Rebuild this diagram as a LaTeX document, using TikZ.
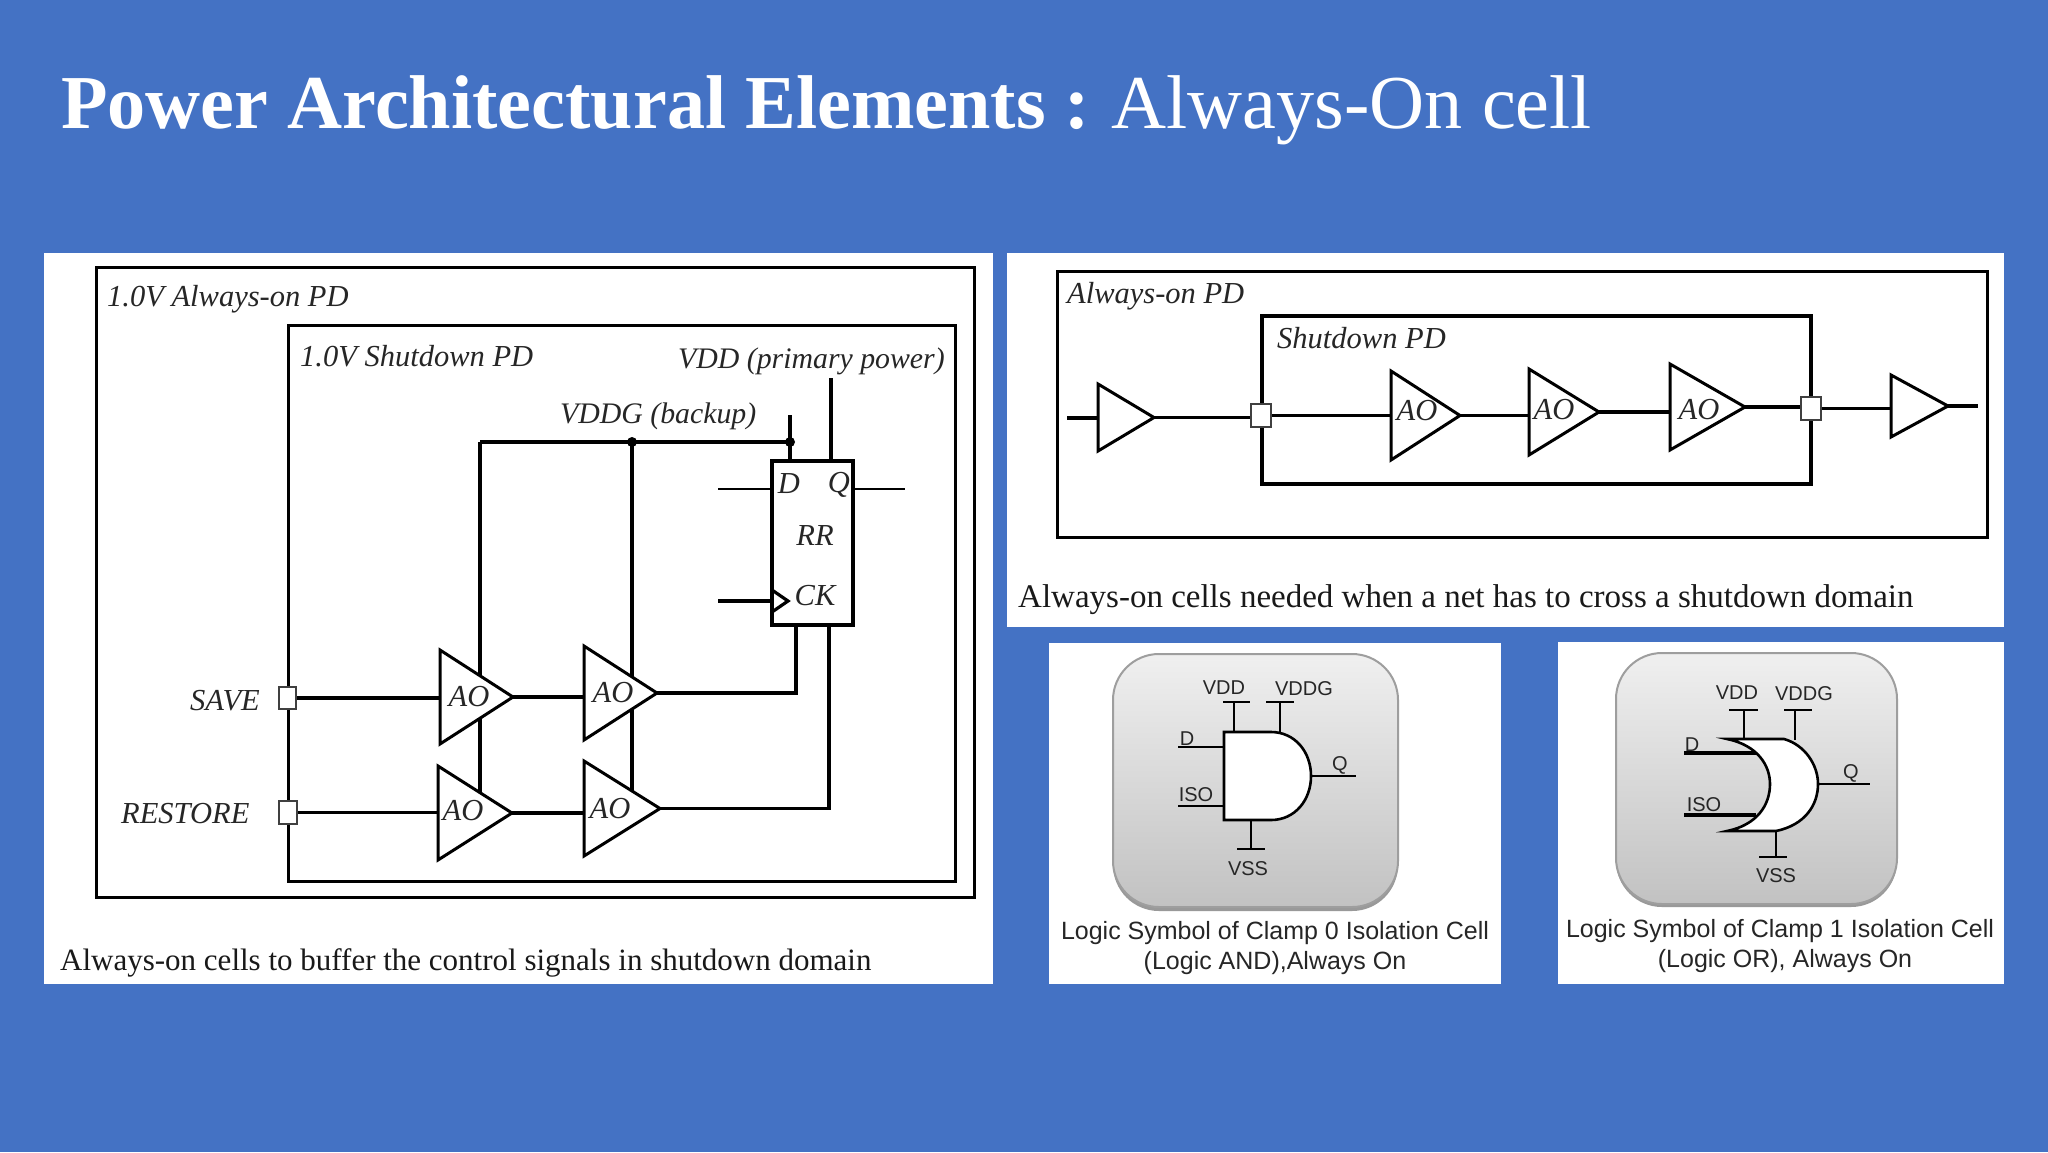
\documentclass[tikz,border=0pt]{standalone}
\usepackage{fontspec}
\setmainfont{Liberation Serif}
\newfontfamily\armfont{Liberation Sans}
\usetikzlibrary{shapes.geometric}
\definecolor{slidebg}{HTML}{4472C4}
\pgfdeclarelayer{slide}
\pgfdeclarelayer{panel}
\pgfdeclarelayer{wires}
\pgfsetlayers{slide,panel,wires,main}
\tikzset{
  panelbox/.style={rectangle,fill=white,draw=none},
  pdbox/.style={rectangle,draw=black,line width=3pt,fill=none},
  wire/.style={line width=3.2pt,black,line cap=butt},
  thinwire/.style={line width=2.4pt,black},
  portbox/.style={rectangle,draw=black!75,line width=1.6pt,fill=white},
  ffbox/.style={rectangle,draw=black,line width=3.2pt,fill=white},
  buf/.style={isosceles triangle,isosceles triangle stretches,shape border rotate=0,draw=black,fill=white,line width=3pt,inner sep=0pt,outer sep=0pt,anchor=lower side},
  junct/.style={circle,fill=black,inner sep=0pt,minimum size=10pt},
  lab/.style={font=\fontsize{30.5}{36}\selectfont\itshape,text=black!85,inner sep=0pt,anchor=base west},
  lab2/.style={font=\fontsize{30.5}{36}\selectfont\itshape,text=black!85,inner sep=0pt},
  capt/.style={font=\fontsize{31}{36}\selectfont,text=black!90,inner sep=0pt,anchor=base west},
  sanscap/.style={font=\armfont\fontsize{25}{30}\selectfont,text=black!85,inner sep=0pt},
  pinlab/.style={font=\armfont\fontsize{20}{24}\selectfont,text=black!85,inner sep=0pt},
  tile/.style={rectangle,rounded corners=46pt,draw=black!38,line width=2pt,top color=black!6,bottom color=black!24},
  tileshadow/.style={rectangle,rounded corners=46pt,fill=black!40,draw=none},
  gatebody/.style={draw=black,fill=white,line width=2.6pt},
  slidetitle/.style={font=\fontsize{76.2}{84}\selectfont,text=white,inner sep=0pt,anchor=base west}
}
\newcommand{\rectnode}[6]{%
  \pgfmathsetmacro{\mwd}{#5-#3}\pgfmathsetmacro{\mht}{#6-#4}%
  \node[#1,minimum width=\mwd pt,minimum height=\mht pt,inner sep=0pt,outer sep=0pt] (#2) at ({(#3+#5)/2},{(#4+#6)/2}) {};}
\newcommand{\aocell}[5]{% name, xleft, ytop, xtip, ybottom
  \pgfmathsetmacro{\mwd}{#4-#2}\pgfmathsetmacro{\mht}{#5-#3}%
  \node[buf,minimum width=\mht pt,minimum height=\mwd pt] (#1) at (#2,{(#3+#5)/2}) {};}
\begin{document}
\begin{tikzpicture}[x=1pt,y=-1pt]
\useasboundingbox (0,0) rectangle (2048,1152);
\begin{pgfonlayer}{slide}
\fill[slidebg] (0,0) rectangle (2048,1152);
\end{pgfonlayer}
\node[slidetitle] (ttl) at (61,128) {\textbf{Power Architectural Elements :}\hspace{-4pt} Always-On cell};

\begin{pgfonlayer}{panel}
\rectnode{panelbox}{pa}{44}{253}{993}{984}
\rectnode{panelbox}{pb}{1007}{253}{2004}{627}
\rectnode{panelbox}{pc}{1049}{643}{1501}{984}
\rectnode{panelbox}{pd}{1558}{642}{2004}{984}
\end{pgfonlayer}

% ---------- left diagram ----------
\begin{pgfonlayer}{wires}
\rectnode{pdbox}{aoA}{96}{267}{974}{897}
\rectnode{pdbox}{sdA}{288}{325}{955}{881}
\end{pgfonlayer}
\node[lab] (laoA) at (107,306) {1.0V Always-on PD};
\node[lab] (lsdA) at (300,366) {1.0V Shutdown PD};
\node[lab,font=\fontsize{29.8}{36}\selectfont\itshape] (lvdd) at (678,368) {VDD (primary power)};
\node[lab,font=\fontsize{29.8}{36}\selectfont\itshape] (lvddg) at (560,423) {VDDG (backup)};
\rectnode{ffbox}{rr}{772}{461}{853}{625}
\node[lab2] (ld) at (789,484) {D};
\node[lab2] (lq) at (839,485) {Q};
\node[lab2] (lrr) at (815,536) {RR};
\node[lab2] (lck) at (815,596) {CK};
\coordinate (ckt) at (772,590);
\coordinate (ckm) at (788,601);
\coordinate (ckb) at (772,612);
\draw[wire] (ckt) -- (ckm) -- (ckb);
\aocell{ta}{440}{650}{513}{744}
\aocell{tb}{584}{646}{657}{740}
\aocell{tc}{438}{766}{512}{860}
\aocell{td}{584}{761}{660}{856}
\node[lab2] (lta) at (469,697) {AO};
\node[lab2] (ltb) at (613,693) {AO};
\node[lab2] (ltc) at (463,811) {AO};
\node[lab2] (ltd) at (610,809) {AO};
\rectnode{portbox}{psave}{279}{687}{296}{709}
\rectnode{portbox}{prest}{279}{801}{297}{824}
\node[lab] (lsave) at (190,710) {SAVE};
\node[lab] (lrest) at (121,823) {RESTORE};
\coordinate (railw) at (480,442);
\node[junct] (j1) at (632,442) {};
\node[junct] (j2) at (790,442) {};
\coordinate (vddgtop) at (790,415);
\coordinate (vddtop) at (831,378);
\coordinate (vddbot) at (831,461);
\coordinate (vddgbot) at (790,461);
\coordinate (dl) at (718,489);
\coordinate (dr) at (772,489);
\coordinate (qr) at (905,489);
\coordinate (ql) at (853,489);
\coordinate (ckl) at (718,601);
\coordinate (rrs1) at (796,625);
\coordinate (rrs2) at (829,625);
\begin{pgfonlayer}{wires}
\draw[wire] (psave) -- (psave -| ta.lower side);
\draw[wire] (prest) -- (prest -| tc.lower side);
\draw[wire] (ta.apex) -- (ta.apex -| tb.lower side);
\draw[wire] (tc.apex) -- (tc.apex -| td.lower side);
\draw[wire] (tb.apex) -| (rrs1);
\draw[wire] (td.apex) -| (rrs2);
\draw[wire] (railw) -- (j2.center);
\draw[wire] (railw) -- (railw |- tc.center);
\draw[wire] (j1.center) -- (j1.center |- td.center);
\draw[wire] (vddgtop) -- (vddgbot);
\draw[wire] (vddtop) -- (vddbot);
\draw[thinwire] (dl) -- (dr);
\draw[thinwire] (ql) -- (qr);
\draw[wire] (ckl) -- (ckm);
\end{pgfonlayer}
\node[capt] (capA) at (60,970) {Always-on cells to buffer the control signals in shutdown domain};

% ---------- top right diagram ----------
\begin{pgfonlayer}{wires}
\rectnode{pdbox}{aoB}{1057}{271}{1987}{537}
\rectnode{pdbox,line width=3.4pt}{sdB}{1262}{316}{1811}{484}
\end{pgfonlayer}
\node[lab] (laoB) at (1067,303) {Always-on PD};
\node[lab] (lsdB) at (1277,348) {Shutdown PD};
\aocell{u0}{1098}{384}{1154}{451}
\aocell{ua}{1391}{371}{1460}{460}
\aocell{ub}{1529}{369}{1599}{455}
\aocell{uc}{1670}{364}{1745}{450}
\aocell{ud}{1891}{375}{1948}{437}
\node[lab2] (lua) at (1417,411) {AO};
\node[lab2] (lub) at (1554,410) {AO};
\node[lab2] (luc) at (1699,410) {AO};
\rectnode{portbox}{s1}{1251}{404}{1271}{427}
\rectnode{portbox}{s2}{1801}{397}{1821}{420}
\coordinate (inB) at (1067,418);
\coordinate (inBr) at (1098,418);
\coordinate (outB) at (1978,406);
\begin{pgfonlayer}{wires}
\draw[wire] (inB) -- (inBr);
\draw[wire] (u0.apex) -- (u0.apex -| s1);
\draw[wire] (s1) -- (s1 -| ua.lower side);
\draw[wire] (ua.apex) -- (ua.apex -| ub.lower side);
\draw[wire] (ub.apex) -- (ub.apex -| uc.lower side);
\draw[wire] (uc.apex) -- (uc.apex -| s2);
\draw[wire] (s2) -- (s2 -| ud.lower side);
\draw[wire] (ud.apex) -- (outB);
\end{pgfonlayer}
\node[capt,font=\fontsize{33}{36}\selectfont] (capB) at (1018,607) {Always-on cells needed when a net has to cross a shutdown domain};

% ---------- clamp 0 ----------
\rectnode{tileshadow}{shC}{1113}{657}{1398}{911}
\rectnode{tile}{tC}{1113}{654}{1398}{907}
\coordinate (andT) at (1224,732);
\coordinate (andB) at (1224,820);
\coordinate (andQ) at (1311,776);
\coordinate (andD) at (1224,747);
\coordinate (andI) at (1224,806);
\coordinate (dC) at (1178,747);
\coordinate (iC) at (1178,806);
\coordinate (qC) at (1356,776);
\coordinate (vddC1) at (1234,732);
\coordinate (vddC2) at (1234,702);
\coordinate (vddgC1) at (1280,732);
\coordinate (vddgC2) at (1280,702);
\coordinate (vssC1) at (1251,820);
\coordinate (vssC2) at (1251,849);
\draw[thinwire] (dC) -- (andD);
\draw[thinwire] (iC) -- (andI);
\draw[thinwire] (andQ) -- (qC);
\draw[thinwire] (vddC1) -- (vddC2);
\draw[thinwire] (vddgC1) -- (vddgC2);
\draw[thinwire] (vssC1) -- (vssC2);
\draw[thinwire] (1223,702) -- (1250,702);
\draw[thinwire] (1266,702) -- (1294,702);
\draw[thinwire] (1237,849) -- (1265,849);
\draw[gatebody] (andT) -- (1271,732) .. controls (1295,732) and (1311,752) .. (andQ) .. controls (1311,800) and (1295,820) .. (1271,820) -- (andB) -- cycle;
\node[pinlab] (c1) at (1224,688) {VDD};
\node[pinlab] (c2) at (1304,689) {VDDG};
\node[pinlab] (c3) at (1187,739) {D};
\node[pinlab] (c4) at (1196,795) {ISO};
\node[pinlab] (c5) at (1340,765) {Q};
\node[pinlab] (c6) at (1248,869) {VSS};
\node[sanscap] (capC1) at (1275,933) {Logic Symbol of Clamp 0 Isolation Cell};
\node[sanscap] (capC2) at (1275,963) {(Logic AND),Always On};

% ---------- clamp 1 ----------
\rectnode{tileshadow}{shD}{1616}{657}{1897}{907}
\rectnode{tile}{tD}{1616}{653}{1897}{904}
\coordinate (orT) at (1727,739);
\coordinate (orB) at (1727,831);
\coordinate (orQ) at (1818,784);
\coordinate (orI) at (1770,784);
\coordinate (dD) at (1684,753);
\coordinate (dDr) at (1756,753);
\coordinate (iD) at (1684,815);
\coordinate (iDr) at (1756,815);
\coordinate (qD) at (1870,784);
\coordinate (vddD1) at (1744,740);
\coordinate (vddD2) at (1744,710);
\coordinate (vddgD1) at (1795,740);
\coordinate (vddgD2) at (1795,710);
\coordinate (vssD1) at (1776,831);
\coordinate (vssD2) at (1776,857);
\draw[wire] (dD) -- (dDr);
\draw[wire] (iD) -- (iDr);
\draw[thinwire] (orQ) -- (qD);
\draw[thinwire] (vddD1) -- (vddD2);
\draw[thinwire] (vddgD1) -- (vddgD2);
\draw[thinwire] (vssD1) -- (vssD2);
\draw[thinwire] (1729,710) -- (1758,710);
\draw[thinwire] (1784,710) -- (1812,710);
\draw[thinwire] (1759,857) -- (1787,857);
\draw[gatebody] (orT) -- (1784,739) .. controls (1805,745) and (1818,765) .. (orQ) .. controls (1818,805) and (1805,825) .. (1776,831) -- (orB) .. controls (1757,825) and (1770,805) .. (orI) .. controls (1770,765) and (1757,745) .. (orT) -- cycle;
\node[pinlab] (d1) at (1737,693) {VDD};
\node[pinlab] (d2) at (1804,694) {VDDG};
\node[pinlab] (d3) at (1692,745) {D};
\node[pinlab] (d4) at (1704,805) {ISO};
\node[pinlab] (d5) at (1851,773) {Q};
\node[pinlab] (d6) at (1776,876) {VSS};
\node[sanscap] (capD1) at (1780,931) {Logic Symbol of Clamp 1 Isolation Cell};
\node[sanscap] (capD2) at (1785,961) {(Logic OR), Always On};
\end{tikzpicture}
\end{document}
